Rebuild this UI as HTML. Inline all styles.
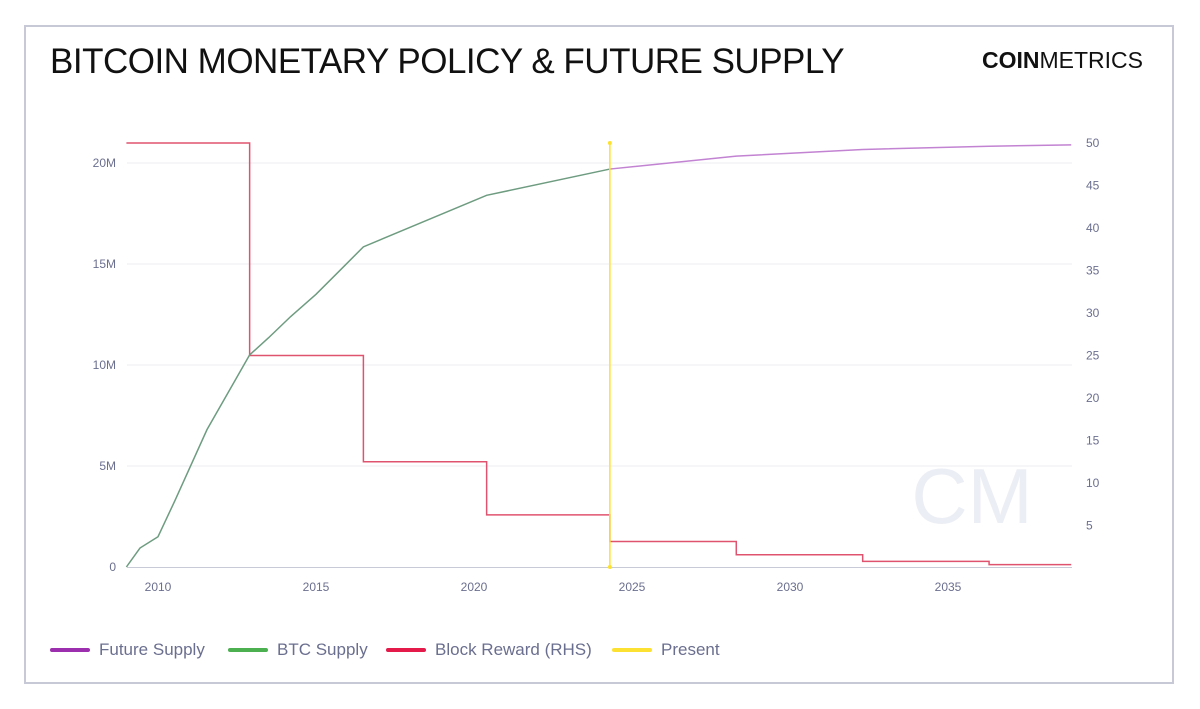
<!DOCTYPE html>
<html><head><meta charset="utf-8"><style>
body{margin:0;background:#fff;width:1200px;height:709px;overflow:hidden;font-family:"Liberation Sans",sans-serif}
#frame{position:absolute;left:24px;top:25px;width:1150px;height:659px;border:2px solid #c8c9d6;box-sizing:border-box}
#title{position:absolute;left:50px;top:42px;font-size:35px;color:#111;letter-spacing:-0.5px}
#logo{position:absolute;left:982px;top:47px;font-size:23px;color:#111}
.leg{position:absolute;top:640px;font-size:17px;color:#6b6f8f;display:flex;align-items:center}
.leg i{display:inline-block;width:40px;height:4px;margin-right:9px;border-radius:2px}
</style></head><body>
<div id="frame"></div>
<div id="title">BITCOIN MONETARY POLICY &amp; FUTURE SUPPLY</div>
<div id="logo"><b>COIN</b><span style="font-weight:300">METRICS</span></div>
<svg id="chart" width="1200" height="709" style="position:absolute;left:0;top:0"></svg>
<div class="leg" style="left:50px"><i style="background:#9c2fae"></i>Future Supply</div>
<div class="leg" style="left:228px"><i style="background:#4caf50"></i>BTC Supply</div>
<div class="leg" style="left:386px"><i style="background:#e31a4a"></i>Block Reward (RHS)</div>
<div class="leg" style="left:612px"><i style="background:#fde132"></i>Present</div>
<script>
const supplyYears=[2009.0,2009.43,2010.0,2010.54,2011.55,2012.9,2013.5,2014.2,2014.6,2015.0,2015.8,2016.5,2020.4,2024.3];
const supplyValues=[0,0.94,1.5,3.3,6.8,10.5,11.35,12.4,12.95,13.5,14.75,15.85,18.4,19.7];
const futureYears=[2024.3,2028.3,2032.3,2036.3,2038.9];
const futureValues=[19.7,20.34,20.67,20.83,20.9];
const halvingYears=[2009.0,2012.9,2016.5,2020.4,2024.3,2028.3,2032.3,2036.3,2038.9];
const rewardValues=[50,25,12.5,6.25,3.125,1.5625,0.78,0.39,0.39];
const presentYear=2024.3;
const xTicks=[2010,2015,2020,2025,2030,2035];
const leftTicks=[0,5,10,15,20];
const rightTicks=[5,10,15,20,25,30,35,40,45,50];
const X=y=>126.4+(y-2009)*31.6;
const YL=v=>567-v*20.2;
const YR=v=>568-v*8.5;
const svg=document.getElementById('chart');
const NS='http://www.w3.org/2000/svg';
function mk(t,a,txt){const e=document.createElementNS(NS,t);for(const k in a)e.setAttribute(k,a[k]);if(txt!=null)e.textContent=txt;svg.appendChild(e);return e;}
leftTicks.forEach(v=>{
 if(v>0){const g=mk('line',{x1:127,x2:1072,y1:YL(v),y2:YL(v),stroke:'#eeeef2','stroke-width':1});
 
 }
 const t=mk('text',{x:116,y:YL(v)+4,'text-anchor':'end','font-size':12,fill:'#6b6f8f'},v===0?'0':v+'M');
 
 
});
rightTicks.forEach(v=>{
 const t=mk('text',{x:1086,y:YR(v)+4,'font-size':12,fill:'#6b6f8f'},String(v));
 
 
});
xTicks.forEach(v=>{
 const t=mk('text',{x:X(v),y:591,'text-anchor':'middle','font-size':12,fill:'#6b6f8f'},String(v));
 
 
});
const wm=mk('text',{x:972,y:523,'text-anchor':'middle','font-size':78,fill:'#eceef5','font-weight':'300'},'CM');


const ax=mk('line',{x1:127,x2:1072,y1:567.5,y2:567.5,stroke:'#c8cad8','stroke-width':1});


let d='';
halvingYears.forEach((y,i)=>{if(i===0)d+=`M${X(y)},${YR(rewardValues[0])}`;else{d+=`H${X(y)}`;if(i<halvingYears.length-1)d+=`V${YR(rewardValues[i])}`;}});
const r=mk('path',{d,fill:'none',stroke:'#e0536f','stroke-width':1.5});


const s=mk('polyline',{points:supplyYears.map((y,i)=>X(y)+','+YL(supplyValues[i])).join(' '),fill:'none',stroke:'#6e9c80','stroke-width':1.5});


const f=mk('polyline',{points:futureYears.map((y,i)=>X(y)+','+YL(futureValues[i])).join(' '),fill:'none',stroke:'#c283d2','stroke-width':1.5});


const p=mk('line',{x1:X(presentYear),x2:X(presentYear),y1:YR(50),y2:567,stroke:'#fde132','stroke-width':1.5});


[YR(50),567].forEach(yy=>{const c=mk('circle',{cx:X(presentYear),cy:yy,r:2,fill:'#fde132'});

});
</script>
</body></html>
